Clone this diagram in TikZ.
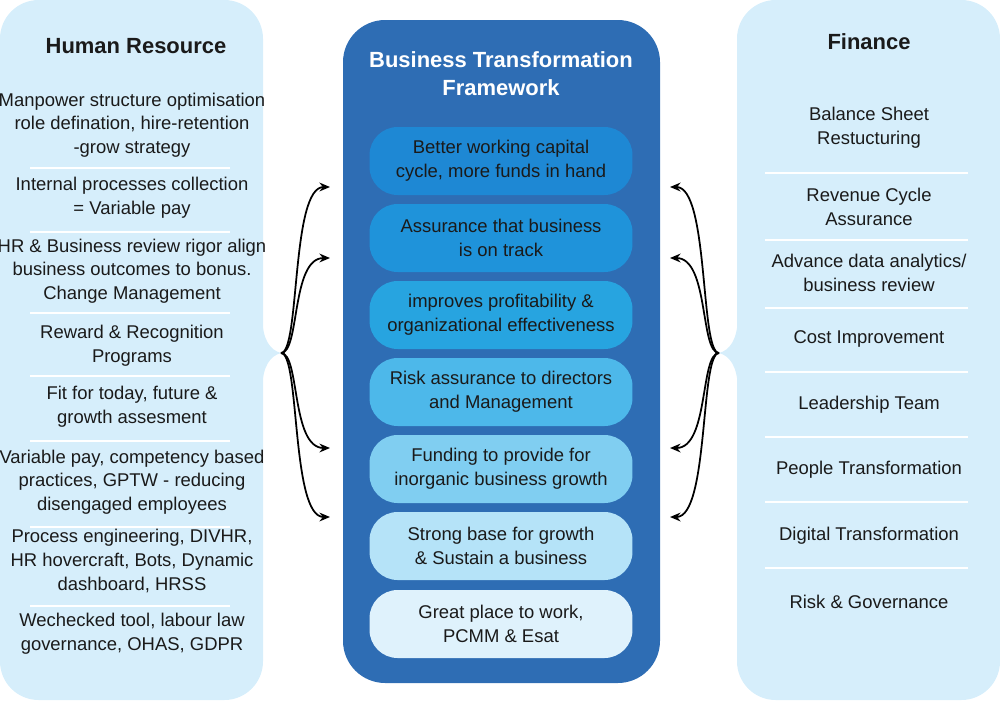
\documentclass[tikz,border=0pt]{standalone}
\usepackage{fontspec}
\setmainfont{Liberation Sans}
\usetikzlibrary{arrows.meta}
\definecolor{sidebg}{HTML}{D6EEFB}
\definecolor{frame}{HTML}{2E6DB4}
\definecolor{ink}{HTML}{1A1A1A}
\definecolor{pillA}{HTML}{1E88D4}
\definecolor{pillB}{HTML}{1F93DA}
\definecolor{pillC}{HTML}{27A4E0}
\definecolor{pillD}{HTML}{4DB8EA}
\definecolor{pillE}{HTML}{80CEF1}
\definecolor{pillF}{HTML}{B5E3F8}
\definecolor{pillG}{HTML}{DFF2FC}
\tikzset{
    item/.style={align=center,text=ink,font=\fontsize{10.5}{13.5}\selectfont},
    pill/.style={rounded corners=16pt,minimum width=5.26cm,minimum height=1.36cm,
        align=center,text=ink,font=\fontsize{10.5}{13.5}\selectfont},
    title/.style={align=center,font=\bfseries\fontsize{12.5}{16}\selectfont},
    divider/.style={draw=white,line width=1pt},
    link/.style={-{Stealth[length=6pt,width=5pt]},line width=1pt},
}
\begin{document}
\begin{tikzpicture}[x=0.02cm,y=-0.02cm]
\useasboundingbox (0,0) rectangle (1000,701);
% Side panels
\fill[sidebg,rounded corners=22pt] (0,0) rectangle (263,700);
\fill[sidebg] (262,318) .. controls (263,340) and (270,350) .. (281,353)
    .. controls (270,356) and (263,366) .. (262,388) -- cycle;
\fill[sidebg,rounded corners=22pt] (737,0) rectangle (1000,700);
\fill[sidebg] (738,318) .. controls (737,340) and (730,350) .. (719,353)
    .. controls (730,356) and (737,366) .. (738,388) -- cycle;
% Centre frame
\fill[frame,rounded corners=24pt] (343,20) rectangle (660,683);
\node[title,text=white] (bt) at (501,74) {Business Transformation\\Framework};
% Pills
\foreach \y/\c/\t [count=\i] in {
    161/pillA/{Better working capital\\cycle, more funds in hand},
    238/pillB/{Assurance that business\\is on track},
    315/pillC/{improves profitability \&\\organizational effectiveness},
    392/pillD/{Risk assurance to directors\\and Management},
    469/pillE/{Funding to provide for\\inorganic business growth},
    546/pillF/{Strong base for growth\\\& Sustain a business},
    624/pillG/{Great place to work,\\PCMM \& Esat}}
    \node[pill,fill=\c] (p\i) at (501,\y) {\t};
% Human Resource
\node[title,text=ink] (hr) at (136,46) {Human Resource};
\foreach \y/\t [count=\i] in {
    125/{Manpower structure optimisation\\role defination, hire-retention\\-grow strategy},
    198/{Internal processes collection\\= Variable pay},
    271/{HR \& Business review rigor align\\business outcomes to bonus.\\Change Management},
    346/{Reward \& Recognition\\Programs},
    407/{Fit for today, future \&\\growth assesment},
    482/{Variable pay, competency based\\practices, GPTW - reducing\\disengaged employees},
    561/{Process engineering, DIVHR,\\HR hovercraft, Bots, Dynamic\\dashboard, HRSS},
    634/{Wechecked tool, labour law\\governance, OHAS, GDPR}}
    \node[item] (h\i) at (132,\y) {\t};
\foreach \y in {168,232,313,376,441,527,606}
    \draw[divider] (30,\y) -- (230,\y);
% Finance
\node[title,text=ink] (fin) at (869,42) {Finance};
\foreach \y/\t [count=\i] in {
    128/{Balance Sheet\\Restucturing},
    207/{Revenue Cycle\\Assurance},
    273/{Advance data analytics/\\business review},
    339/{Cost Improvement},
    405/{Leadership Team},
    470/{People Transformation},
    536/{Digital Transformation},
    602/{Risk \& Governance}}
    \node[item] (f\i) at (869,\y) {\t};
\foreach \y in {173,240,308,372,437,502,568}
    \draw[divider] (765,\y) -- (968,\y);
% Braces
\coordinate (lb) at (281,353);
\coordinate (rb) at (719,353);
\foreach \y in {187,258,448,517} {
    \draw[link] (lb) .. controls (300,353) and (291,\y) .. (330,\y);
    \draw[link] (rb) .. controls (700,353) and (709,\y) .. (670,\y);
}
\end{tikzpicture}
\end{document}
